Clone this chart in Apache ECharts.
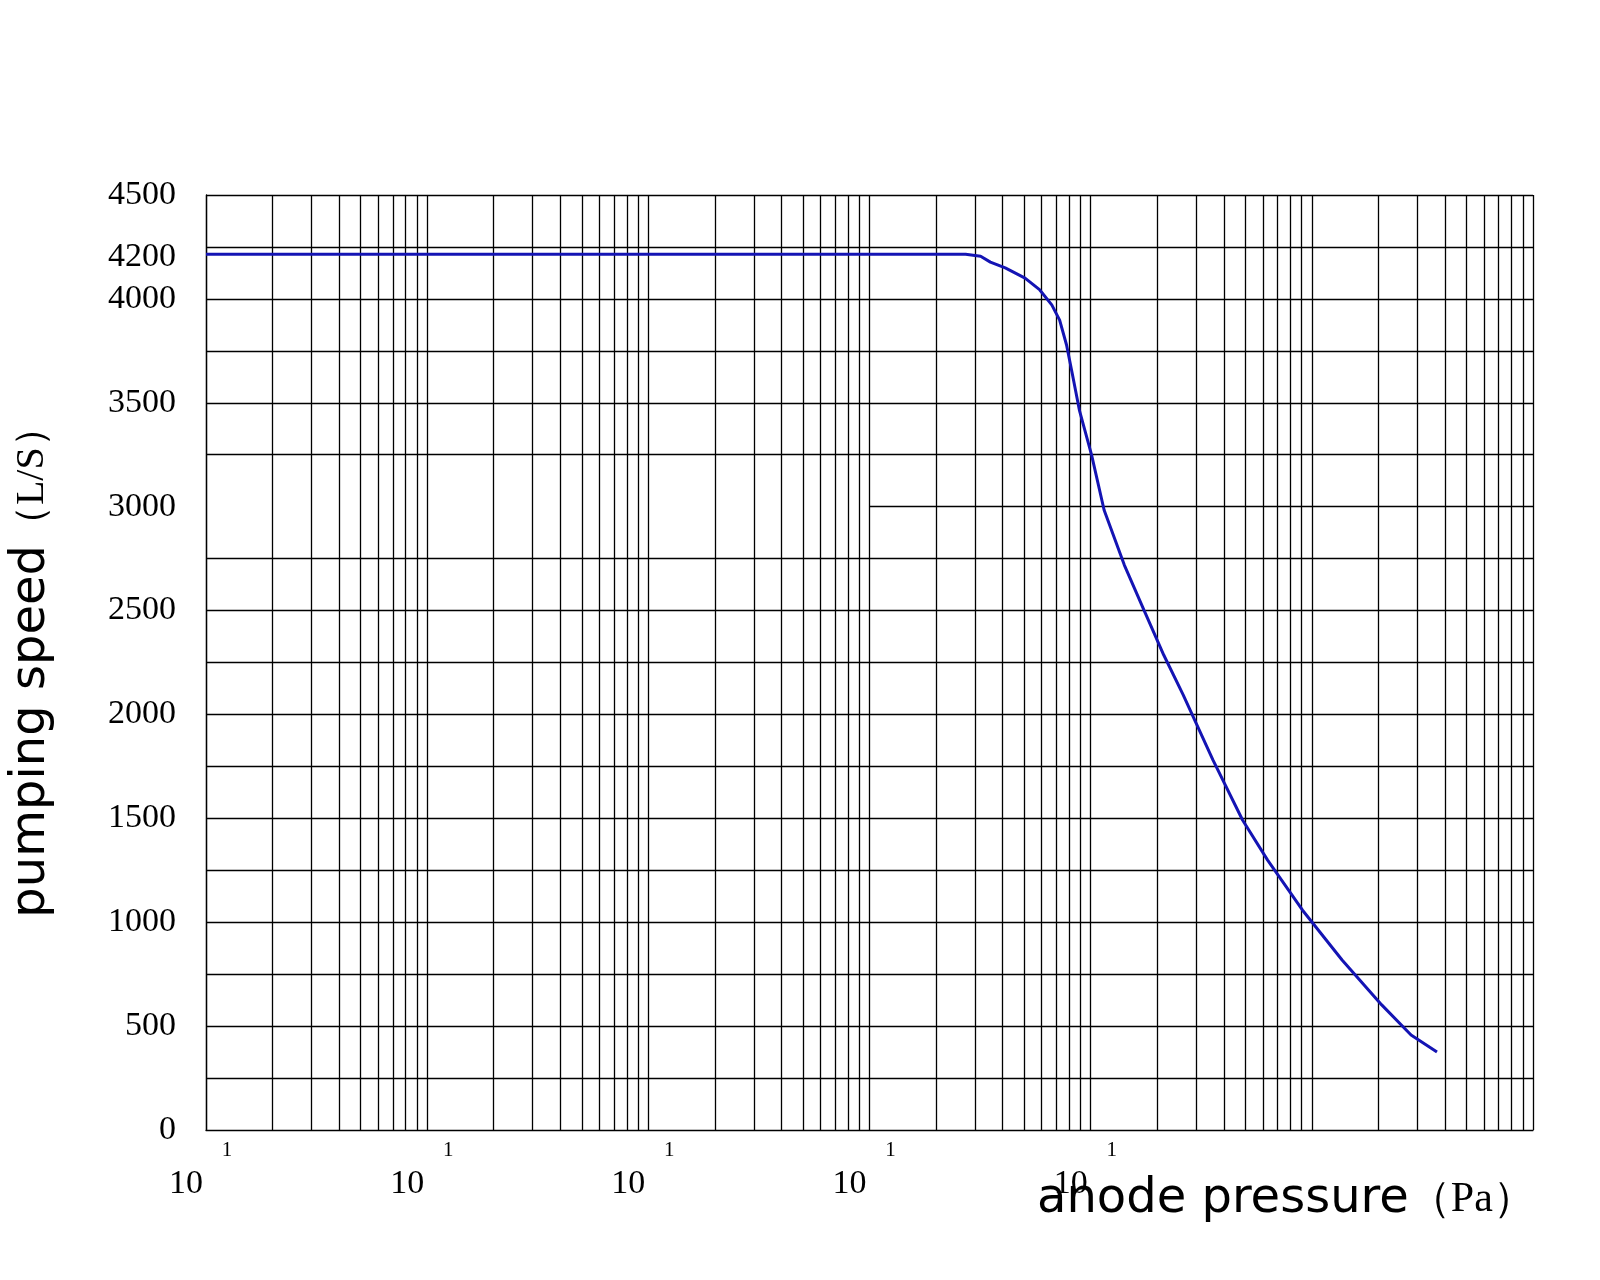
<!DOCTYPE html>
<html>
<head>
<meta charset="utf-8">
<script src="https://cdn.jsdelivr.net/npm/echarts@6/dist/echarts.min.js"></script>
<style>html,body{margin:0;background:#fff}#c{width:1600px;height:1280px}</style>
</head>
<body>
<div id="c"></div>
<script>
// anode pressure (Pa) and pumping speed (L/S)
const pressure = [1e-6, 1e-4, 1e-3, 2.72e-3, 3.18e-3, 3.52e-3, 4.11e-3, 5.05e-3, 5.89e-3, 6.67e-3,
  7.24e-3, 7.78e-3, 8.28e-3, 8.89e-3, 1.01e-2, 1.15e-2, 1.42e-2, 1.74e-2, 2.14e-2, 2.62e-2,
  3.57e-2, 4.86e-2, 6.31e-2, 9.06e-2, 0.137, 0.207, 0.281, 0.368];
const speed = [4215, 4215, 4215, 4215, 4205, 4177, 4149, 4100, 4043, 3971,
  3898, 3778, 3634, 3465, 3248, 2984, 2719, 2503, 2286, 2094,
  1781, 1492, 1299, 1059, 818, 602, 457, 375];
const yLabels = [0, 500, 1000, 1500, 2000, 2500, 3000, 3500, 4000, 4200, 4500];
const decades = [1e-6, 1e-5, 1e-4, 1e-3, 1e-2, 1e-1, 1];
const labelledDecades = [1e-6, 1e-5, 1e-4, 1e-3, 1e-2];

const X0 = 1e-6, X1 = 1;
const lines = [];
const ln = { color: '#000', width: 1.3, type: 'solid' };
// vertical grid lines
decades.forEach(d => {
  for (let k = 1; k <= 9; k++) {
    const v = d * k;
    if (v > X1 * 1.0001) break;
    lines.push([{ coord: [v, 0] }, { coord: [v, 4500] }]);
  }
});
// horizontal grid lines (3000 starts at 1e-3)
for (let v = 250; v <= 4500; v += 250) {
  lines.push([{ coord: [v === 3000 ? 1e-3 : X0, v] }, { coord: [X1, v] }]);
}

const chart = echarts.init(document.getElementById('c'));
chart.setOption({
  animation: false,
  grid: { left: 193, right: 67, top: 195, bottom: 150 },
  xAxis: {
    type: 'log', min: X0, max: X1, logBase: 10,
    axisLine: { lineStyle: { color: '#000', width: 1.3 } },
    axisTick: { show: false },
    splitLine: { show: false },
    axisLabel: {
      margin: 6,
      formatter: v => labelledDecades.some(d => Math.abs(Math.log10(v) - Math.log10(d)) < 1e-6) ? '{s|1}\n{b|10}' : '',
      rich: {
        s: { fontFamily: 'Liberation Serif', fontSize: 21, color: '#000', padding: [0, 0, 0, 42], lineHeight: 28 },
        b: { fontFamily: 'Liberation Serif', fontSize: 34, color: '#000', padding: [0, 40, 0, 0], lineHeight: 40 }
      }
    }
  },
  yAxis: {
    type: 'value', min: 0, max: 4500, interval: 250,
    axisLine: { show: true, lineStyle: { color: '#000', width: 1.3 } },
    axisTick: { show: false },
    splitLine: { show: false },
    axisLabel: {
      customValues: yLabels,
      formatter: v => String(v),
      margin: 30, color: '#000', fontFamily: 'Liberation Serif', fontSize: 34
    },
    name: '{a|pumping speed}{b|（L/S）}',
    nameLocation: 'middle', nameGap: 150, nameRotate: 90,
    nameTextStyle: {
      rich: {
        a: { fontFamily: 'DejaVu Sans', fontSize: 48, color: '#000' },
        b: { fontFamily: 'Liberation Serif', fontSize: 40, color: '#000' }
      }
    }
  },
  graphic: [{
    type: 'text', left: 1037, top: 1176,
    style: { rich: {
      a: { fontFamily: 'DejaVu Sans', fontSize: 48, fill: '#000' },
      b: { fontFamily: 'Liberation Serif', fontSize: 42, fill: '#000' }
    }, text: '{a|anode pressure}{b|（Pa）}' }
  }],
  series: [{
    type: 'line', data: pressure.map((p, i) => [p, speed[i]]),
    showSymbol: false, smooth: false,
    lineStyle: { color: '#1414b4', width: 3 },
    z: 3,
    markLine: { silent: true, symbol: 'none', label: { show: false }, lineStyle: ln, data: lines, z: 1 }
  }]
});
</script>
</body>
</html>
